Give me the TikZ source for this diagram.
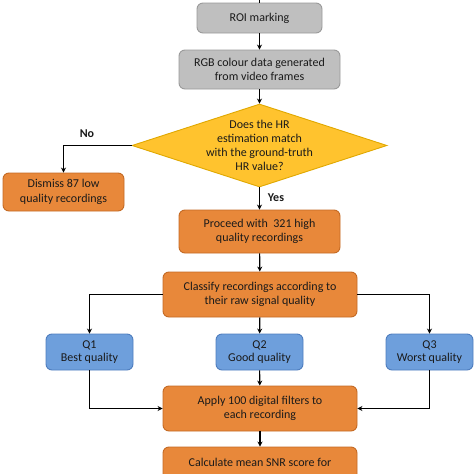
\documentclass[tikz,border=0pt]{standalone}
\usepackage{fontspec}
\setmainfont{Carlito}
\usetikzlibrary{shapes.geometric,arrows.meta}
\definecolor{grayfill}{HTML}{BFBFBF}
\definecolor{grayline}{HTML}{9A9A9A}
\definecolor{orfill}{HTML}{E8883A}
\definecolor{orline}{HTML}{C46A24}
\definecolor{blfill}{HTML}{6E9FDC}
\definecolor{blline}{HTML}{4E7DBE}
\definecolor{yefill}{HTML}{FFC32E}
\definecolor{yeline}{HTML}{E0A800}
\definecolor{txt}{HTML}{1A1A1A}
\tikzset{
  box/.style={rectangle, rounded corners=6pt, line width=0.9pt, align=center, inner sep=0pt, font=\fontsize{12}{14.5}\selectfont, text=txt},
  graybox/.style={box, fill=grayfill, draw=grayline},
  orbox/.style={box, fill=orfill, draw=orline},
  blbox/.style={box, fill=blfill, draw=blline, font=\fontsize{12}{13.5}\selectfont},
  conn/.style={-{Stealth[length=5pt,width=5pt]}, line width=1.1pt, black},
  lbl/.style={font=\fontsize{12}{14}\selectfont\bfseries, text=txt}
}
\begin{document}
\begin{tikzpicture}[x=1pt,y=-1pt]
\useasboundingbox (0,0) rectangle (474,474);
\clip (0,0) rectangle (474,474);
\node[graybox, minimum width=125pt, minimum height=30pt] (roi) at (259.5,18) {ROI marking};
\node[graybox, minimum width=161pt, minimum height=39pt] (rgb) at (259.5,69.5) {RGB colour data generated\\from video frames};
\node[diamond, fill=yefill, draw=yeline, line width=0.9pt, minimum width=255pt, minimum height=83pt, inner sep=0pt] (dec) at (259.5,145.5) {};
\node[align=center, font=\fontsize{12}{14}\selectfont, text=txt] (dect) at (dec.center) {Does the HR\\estimation match\\with the ground-truth\\HR value?};
\node[orbox, minimum width=121pt, minimum height=38pt] (dis) at (63.5,192) {Dismiss 87 low\\quality recordings};
\node[orbox, minimum width=161pt, minimum height=43pt] (pro) at (259.5,231.5) {Proceed with\ \ 321 high\\quality recordings};
\node[orbox, minimum width=194pt, minimum height=45pt] (cla) at (260,294.5) {Classify recordings according to\\their raw signal quality};
\node[blbox, minimum width=87pt, minimum height=36pt] (q1) at (89.5,352) {Q1\\Best quality};
\node[blbox, minimum width=87pt, minimum height=36pt] (q2) at (259.5,352) {Q2\\Good quality};
\node[blbox, minimum width=87pt, minimum height=36pt] (q3) at (429.5,352) {Q3\\Worst quality};
\node[orbox, minimum width=194pt, minimum height=45pt] (app) at (260,408.5) {Apply 100 digital filters to\\each recording};
\node[orbox, minimum width=194pt, minimum height=45pt] (cal) at (260,469.5) {Calculate mean SNR score for\\\phantom{x}};
\coordinate (top) at (259.5,-2);
\draw[line width=1.1pt] (top) -- (roi.north);
\draw[conn] (roi) -- (rgb);
\draw[conn] (rgb) -- (dec.north);
\draw[conn] (dec.west) -| (dis.north);
\node[lbl] (no) at (87,134) {No};
\draw[conn] (dec.south) -- (pro);
\node[lbl] (yes) at (276,198) {Yes};
\draw[conn] (pro) -- (cla);
\draw[conn] (cla.west) -| (q1.north);
\draw[conn] (cla) -- (q2);
\draw[conn] (cla.east) -| (q3.north);
\draw[conn] (q1.south) |- (app.west);
\draw[conn] (q2) -- (app);
\draw[conn] (q3.south) |- (app.east);
\draw[conn] (app) -- (cal);
\end{tikzpicture}
\end{document}
